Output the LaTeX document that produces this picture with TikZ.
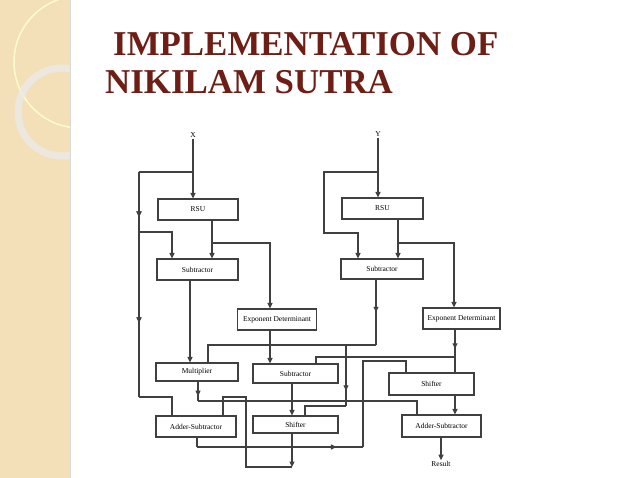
\documentclass[tikz,border=0pt]{standalone}
\usepackage{fontspec}
\setmainfont{Liberation Serif}
\usetikzlibrary{arrows.meta,decorations.markings}
\begin{document}
\begin{tikzpicture}[x=1bp,y=-1bp,
  box/.style={draw=black!75,line width=1.1pt,fill=white,inner sep=0pt,font=\fontsize{7.5}{8}\selectfont},
  w/.style={draw=black!75,line width=1.1pt},
  tip/.style={-{Triangle[width=5bp,length=5.5bp]}},
  am/.style={decoration={markings,mark=at position #1 with {\arrow{Triangle[width=5bp,length=5.5bp]}}},postaction=decorate}]
\useasboundingbox (0,0) rectangle (638,478);
% left panel
\fill[fill={rgb,255:red,243;green,224;blue,184}] (0,0) rectangle (70,478);
\begin{scope}
\clip (0,0) rectangle (70,478);
\draw[white!80!yellow,line width=1.5pt] (80,62) circle (66);
\draw[black!8!white,line width=7pt,opacity=0.8] (62,112) circle (44);
\end{scope}
\draw[black!15,line width=0.4pt] (70,0) -- (70,478);
% title
\node[anchor=base west,inner sep=0pt,text={rgb,255:red,110;green,30;blue,20},font=\fontsize{35}{36}\bfseries\selectfont] (t1) at (113,56) {IMPLEMENTATION OF};
\node[anchor=base west,inner sep=0pt,text={rgb,255:red,110;green,30;blue,20},font=\fontsize{35}{36}\bfseries\selectfont] (t2) at (105,94) {NIKILAM SUTRA};
% labels
\node[font=\fontsize{7.5}{8}\selectfont,inner sep=1pt] (X) at (193,135) {X};
\node[font=\fontsize{7.5}{8}\selectfont,inner sep=1pt] (Y) at (378,134) {Y};
\node[font=\fontsize{7.5}{8}\selectfont,inner sep=1pt] (res) at (441,464) {Result};
% boxes
\node[box,minimum width=80bp,minimum height=21bp] (r1) at (198,209.5) {RSU};
\node[box,minimum width=81bp,minimum height=21bp] (s1) at (197.5,269.5) {Subtractor};
\node[box,minimum width=79bp,minimum height=21bp] (e1) at (277,319.5) {Exponent Determinant};
\node[box,minimum width=81bp,minimum height=21bp] (r2) at (382.5,208.5) {RSU};
\node[box,minimum width=82bp,minimum height=20bp] (s2) at (382,269) {Subtractor};
\node[box,minimum width=77bp,minimum height=21bp] (e2) at (461.5,318.5) {Exponent Determinant};
\node[box,minimum width=82bp,minimum height=18bp] (mul) at (197,372) {Multiplier};
\node[box,minimum width=85bp,minimum height=19bp] (s3) at (295.5,373.5) {Subtractor};
\node[box,minimum width=85bp,minimum height=22bp] (sh2) at (431.5,384) {Shifter};
\node[box,minimum width=80bp,minimum height=21bp] (as1) at (196,426.5) {Adder-Subtractor};
\node[box,minimum width=85bp,minimum height=17bp] (sh1) at (295.5,424.5) {Shifter};
\node[box,minimum width=79bp,minimum height=22bp] (as2) at (441.5,426) {Adder-Subtractor};
% junctions
\coordinate (jx) at (193,172);
\coordinate (jy) at (378,172);
\coordinate (jm) at (292,467);
% connectors
\draw[w,tip] (X) -- (r1.north -| X);
\draw[w] (jx) -- (139,172);
\draw[w,am=0.2,am=0.67] (139,172) -- (139,397);
\draw[w] (139,397) -- (172,397) -- (as1.north -| 172,0);
\draw[w,tip] (139,232) -- (172,232) -- (s1.north -| 172,0);
\draw[w,tip] (r1.south -| 212,0) -- (s1.north -| 212,0);
\draw[w,tip] (212,243) -- (270,243) -- (e1.north -| 270,0);
\draw[w,tip] (s1.south -| 190,0) -- (mul.north -| 190,0);
\draw[w,tip] (e1.south -| 270,0) -- (s3.north -| 270,0);
\draw[w,tip] (Y) -- (r2.north -| Y);
\draw[w,tip] (jy) -- (324,172) -- (324,233) -- (358,233) -- (s2.north -| 358,0);
\draw[w,tip] (r2.south -| 398,0) -- (s2.north -| 398,0);
\draw[w,tip] (398,243) -- (454,243) -- (e2.north -| 454,0);
\draw[w,am=0.5] (s2.south -| 376,0) -- (376,345);
\draw[w] (376,345) -- (208,345) -- (mul.north -| 208,0);
\draw[w,am=0.75] (346,345) -- (346,406);
\draw[w] (346,406) -- (305,406) -- (sh1.north -| 305,0);
\draw[w,am=0.7] (e2.south -| 455,0) -- (455,357);
\draw[w] (455,357) -- (sh2.north -| 455,0);
\draw[w] (455,357) -- (316,357) -- (s3.north -| 316,0);
\draw[w,tip] (sh2.south -| 455,0) -- (as2.north -| 455,0);
\draw[w,am=0.75] (mul.south -| 198,0) -- (198,401);
\draw[w] (198,401) -- (417,401) -- (as2.north -| 417,0);
\draw[w] (as1.north -| 223,0) -- (223,397) -- (246,397) -- (246,467) -- (jm);
\draw[w,tip] (s3.south -| 292,0) -- (sh1.north -| 292,0);
\draw[w,tip] (sh1.south -| 292,0) -- (jm);
\draw[w] (as1.south -| 197,0) -- (197,447);
\draw[w,am=0.84] (197,447) -- (363,447);
\draw[w] (363,447) -- (363,361) -- (406,361) -- (sh2.north -| 406,0);
\draw[w,tip] (as2.south -| 441,0) -- (res);
\end{tikzpicture}
\end{document}
